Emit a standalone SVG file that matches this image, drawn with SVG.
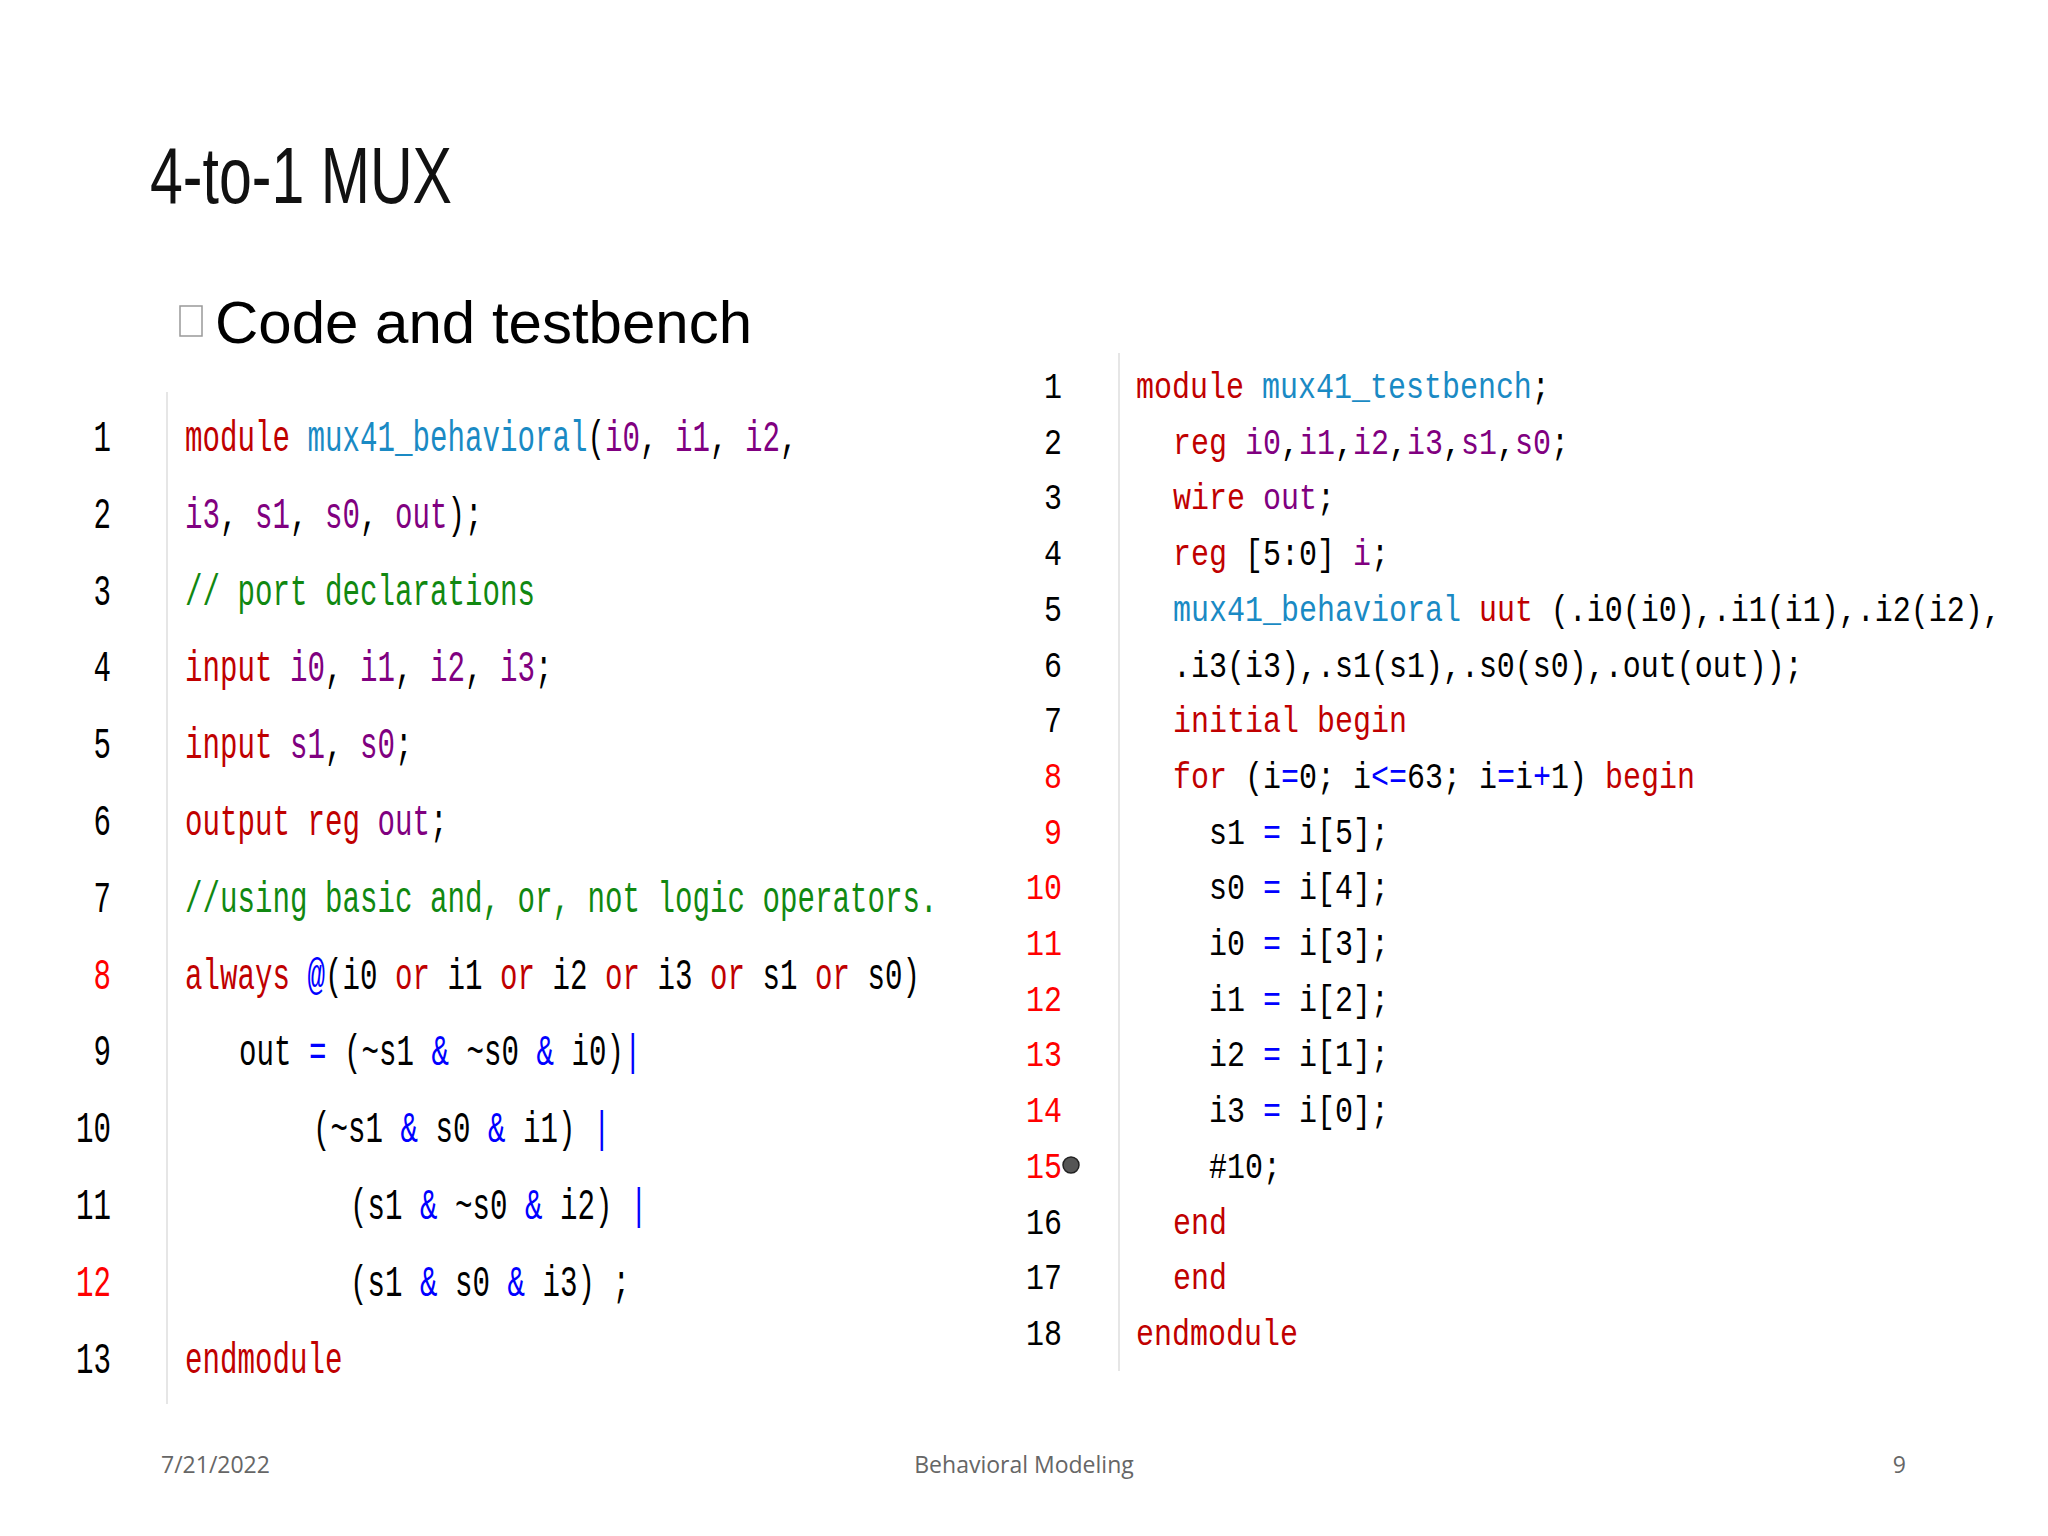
<svg xmlns="http://www.w3.org/2000/svg" width="2048" height="1536" viewBox="0 0 2048 1536">
<style>
.lc{font-family:"Liberation Mono",monospace;font-size:44px;fill:#000}
.rc{font-family:"Liberation Mono",monospace;font-size:36px;fill:#000}
.k{fill:#c00000}.b{fill:#1a8ac4}.p{fill:#800080}.g{fill:#118811}.o{fill:#0000ff}.n{fill:#ff0000}
.ft{font-family:"Open Sans","Liberation Sans",sans-serif;font-size:23px;fill:#666}
</style>
<rect width="2048" height="1536" fill="#fff"/>
<g id="title">
<text x="150" y="203" font-family="Liberation Sans,sans-serif" font-size="80" textLength="302" lengthAdjust="spacingAndGlyphs" fill="#111">4-to-1 MUX</text>
<rect x="180" y="306" width="22" height="30" fill="none" stroke="#999" stroke-width="1.5"/>
<text x="215" y="343" font-family="Liberation Sans,sans-serif" font-size="60" fill="#000">Code and testbench</text>
</g>
<g id="leftcode">
<line x1="167" y1="392" x2="167" y2="1404" stroke="#e6e6e6" stroke-width="2"/>
<g class="lc" text-anchor="end">
<text transform="translate(111,451) scale(0.663,1)">1</text>
<text transform="translate(111,528) scale(0.663,1)">2</text>
<text transform="translate(111,605) scale(0.663,1)">3</text>
<text transform="translate(111,681) scale(0.663,1)">4</text>
<text transform="translate(111,758) scale(0.663,1)">5</text>
<text transform="translate(111,835) scale(0.663,1)">6</text>
<text transform="translate(111,912) scale(0.663,1)">7</text>
<text class="n" transform="translate(111,989) scale(0.663,1)">8</text>
<text transform="translate(111,1065) scale(0.663,1)">9</text>
<text transform="translate(111,1142) scale(0.663,1)">10</text>
<text transform="translate(111,1219) scale(0.663,1)">11</text>
<text class="n" transform="translate(111,1296) scale(0.663,1)">12</text>
<text transform="translate(111,1373) scale(0.663,1)">13</text>
</g>
<g class="lc" xml:space="preserve">
<text transform="translate(185,451) scale(0.663,1)"><tspan class="k">module</tspan> <tspan class="b">mux41_behavioral</tspan>(<tspan class="p">i0</tspan>, <tspan class="p">i1</tspan>, <tspan class="p">i2</tspan>,</text>
<text transform="translate(185,528) scale(0.663,1)"><tspan class="p">i3</tspan>, <tspan class="p">s1</tspan>, <tspan class="p">s0</tspan>, <tspan class="p">out</tspan>);</text>
<text class="g" transform="translate(185,605) scale(0.663,1)">// port declarations</text>
<text transform="translate(185,681) scale(0.663,1)"><tspan class="k">input</tspan> <tspan class="p">i0</tspan>, <tspan class="p">i1</tspan>, <tspan class="p">i2</tspan>, <tspan class="p">i3</tspan>;</text>
<text transform="translate(185,758) scale(0.663,1)"><tspan class="k">input</tspan> <tspan class="p">s1</tspan>, <tspan class="p">s0</tspan>;</text>
<text transform="translate(185,835) scale(0.663,1)"><tspan class="k">output reg</tspan> <tspan class="p">out</tspan>;</text>
<text class="g" transform="translate(185,912) scale(0.663,1)">//using basic and, or, not logic operators.</text>
<text transform="translate(185,989) scale(0.663,1)"><tspan class="k">always</tspan> <tspan class="o">@</tspan>(i0 <tspan class="k">or</tspan> i1 <tspan class="k">or</tspan> i2 <tspan class="k">or</tspan> i3 <tspan class="k">or</tspan> s1 <tspan class="k">or</tspan> s0)</text>
<text transform="translate(239,1065) scale(0.663,1)">out <tspan class="o">=</tspan> (~s1 <tspan class="o">&amp;</tspan> ~s0 <tspan class="o">&amp;</tspan> i0)<tspan class="o">|</tspan></text>
<text transform="translate(313,1142) scale(0.663,1)">(~s1 <tspan class="o">&amp;</tspan> s0 <tspan class="o">&amp;</tspan> i1) <tspan class="o">|</tspan></text>
<text transform="translate(350,1219) scale(0.663,1)">(s1 <tspan class="o">&amp;</tspan> ~s0 <tspan class="o">&amp;</tspan> i2) <tspan class="o">|</tspan></text>
<text transform="translate(350,1296) scale(0.663,1)">(s1 <tspan class="o">&amp;</tspan> s0 <tspan class="o">&amp;</tspan> i3) ;</text>
<text class="k" transform="translate(185,1373) scale(0.663,1)">endmodule</text>
</g>
</g>
<g id="rightcode">
<line x1="1119" y1="353" x2="1119" y2="1371" stroke="#e6e6e6" stroke-width="2"/>
<g class="rc" text-anchor="end">
<text transform="translate(1062,398) scale(0.833,1)">1</text>
<text transform="translate(1062,454) scale(0.833,1)">2</text>
<text transform="translate(1062,509) scale(0.833,1)">3</text>
<text transform="translate(1062,565) scale(0.833,1)">4</text>
<text transform="translate(1062,621) scale(0.833,1)">5</text>
<text transform="translate(1062,677) scale(0.833,1)">6</text>
<text transform="translate(1062,732) scale(0.833,1)">7</text>
<text class="n" transform="translate(1062,788) scale(0.833,1)">8</text>
<text class="n" transform="translate(1062,844) scale(0.833,1)">9</text>
<text class="n" transform="translate(1062,899) scale(0.833,1)">10</text>
<text class="n" transform="translate(1062,955) scale(0.833,1)">11</text>
<text class="n" transform="translate(1062,1011) scale(0.833,1)">12</text>
<text class="n" transform="translate(1062,1066) scale(0.833,1)">13</text>
<text class="n" transform="translate(1062,1122) scale(0.833,1)">14</text>
<text class="n" transform="translate(1062,1178) scale(0.833,1)">15</text>
<text transform="translate(1062,1234) scale(0.833,1)">16</text>
<text transform="translate(1062,1289) scale(0.833,1)">17</text>
<text transform="translate(1062,1345) scale(0.833,1)">18</text>
</g>
<circle cx="1071" cy="1165" r="8" fill="#555" stroke="#222" stroke-width="1.5"/>
<g class="rc" xml:space="preserve">
<text transform="translate(1136,398) scale(0.833,1)"><tspan class="k">module</tspan> <tspan class="b">mux41_testbench</tspan>;</text>
<text transform="translate(1173,454) scale(0.833,1)"><tspan class="k">reg</tspan> <tspan class="p">i0</tspan>,<tspan class="p">i1</tspan>,<tspan class="p">i2</tspan>,<tspan class="p">i3</tspan>,<tspan class="p">s1</tspan>,<tspan class="p">s0</tspan>;</text>
<text transform="translate(1173,509) scale(0.833,1)"><tspan class="k">wire</tspan> <tspan class="p">out</tspan>;</text>
<text transform="translate(1173,565) scale(0.833,1)"><tspan class="k">reg</tspan> [5:0] <tspan class="p">i</tspan>;</text>
<text transform="translate(1173,621) scale(0.833,1)"><tspan class="b">mux41_behavioral</tspan> <tspan class="k">uut</tspan> (.i0(i0),.i1(i1),.i2(i2),</text>
<text transform="translate(1173,677) scale(0.833,1)">.i3(i3),.s1(s1),.s0(s0),.out(out));</text>
<text class="k" transform="translate(1173,732) scale(0.833,1)">initial begin</text>
<text transform="translate(1173,788) scale(0.833,1)"><tspan class="k">for</tspan> (i<tspan class="o">=</tspan>0; i<tspan class="o">&lt;=</tspan>63; i<tspan class="o">=</tspan>i<tspan class="o">+</tspan>1) <tspan class="k">begin</tspan></text>
<text transform="translate(1209,844) scale(0.833,1)">s1 <tspan class="o">=</tspan> i[5];</text>
<text transform="translate(1209,899) scale(0.833,1)">s0 <tspan class="o">=</tspan> i[4];</text>
<text transform="translate(1209,955) scale(0.833,1)">i0 <tspan class="o">=</tspan> i[3];</text>
<text transform="translate(1209,1011) scale(0.833,1)">i1 <tspan class="o">=</tspan> i[2];</text>
<text transform="translate(1209,1066) scale(0.833,1)">i2 <tspan class="o">=</tspan> i[1];</text>
<text transform="translate(1209,1122) scale(0.833,1)">i3 <tspan class="o">=</tspan> i[0];</text>
<text transform="translate(1209,1178) scale(0.833,1)">#10;</text>
<text class="k" transform="translate(1173,1234) scale(0.833,1)">end</text>
<text class="k" transform="translate(1173,1289) scale(0.833,1)">end</text>
<text class="k" transform="translate(1136,1345) scale(0.833,1)">endmodule</text>
</g>
</g>
<g id="footer">
<text class="ft" x="161" y="1473">7/21/2022</text>
<text class="ft" x="1024" y="1473" text-anchor="middle">Behavioral Modeling</text>
<text class="ft" x="1906" y="1473" text-anchor="end">9</text>
</g>
</svg>
